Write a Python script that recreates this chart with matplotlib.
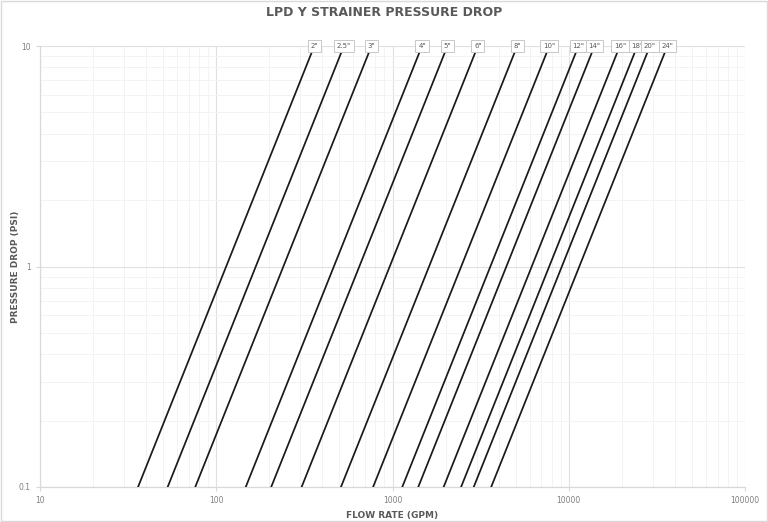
import matplotlib
matplotlib.use('Agg')
import matplotlib.pyplot as plt
from matplotlib.ticker import FixedLocator, LogLocator, NullFormatter

plt.rcParams['font.family'] = ['Liberation Sans Narrow', 'DejaVu Sans']

# strainer sizes and flow (GPM) read at 0.1 psi and at 10 psi
sizes = ['2"', '2.5"', '3"', '4"', '5"', '6"', '8"', '10"', '12"', '14"', '16"', '18"', '20"', '24"']
flow_low = [36, 53, 76, 147, 205, 305, 510, 776, 1136, 1400, 1950, 2450, 2890, 3630]
flow_high = [360, 530, 760, 1470, 2050, 3050, 5100, 7760, 11360, 14000, 19500, 24500, 28900, 36300]
dp_low = 0.1
dp_high = 10

x_ticks = [10, 100, 1000, 10000, 100000]
y_ticks = [0.1, 1, 10]

fig = plt.figure(figsize=(7.68, 5.22), dpi=100)
ax = fig.add_axes([40 / 768, 1 - 487 / 522, 705 / 768, 441 / 522])

for s, lo, hi in zip(sizes, flow_low, flow_high):
    ax.plot([lo, hi], [dp_low, dp_high], color='#1a1a1a', lw=1.25, zorder=3)
    ax.text(hi, dp_high, s, ha='center', va='center', fontsize=5, color='#595959', zorder=4,
            bbox=dict(boxstyle='square,pad=0.4', fc='white', ec='#c8c8c8', lw=0.7))

ax.set_xscale('log')
ax.set_yscale('log')
ax.set_xlim(10, 100000)
ax.set_ylim(0.1, 10)

ax.xaxis.set_major_locator(FixedLocator(x_ticks))
ax.yaxis.set_major_locator(FixedLocator(y_ticks))
ax.set_xticklabels([str(v) for v in x_ticks])
ax.set_yticklabels(['0.1', '1', '10'])
ax.xaxis.set_minor_locator(LogLocator(base=10, subs=range(2, 10)))
ax.yaxis.set_minor_locator(LogLocator(base=10, subs=range(2, 10)))
ax.xaxis.set_minor_formatter(NullFormatter())
ax.yaxis.set_minor_formatter(NullFormatter())

ax.grid(which='major', color='#e0e0e0', lw=0.8)
ax.grid(which='minor', color='#f3f3f3', lw=0.7)
ax.set_axisbelow(True)

for side in ['top', 'right']:
    ax.spines[side].set_visible(False)
for side in ['left', 'bottom']:
    ax.spines[side].set_color('#d9d9d9')
    ax.spines[side].set_linewidth(0.9)

ax.tick_params(which='major', length=3, color='#d9d9d9', labelsize=5.5, labelcolor='#7f7f7f')
ax.tick_params(which='minor', length=0)

ax.set_xlabel('FLOW RATE (GPM)', fontsize=6.5, fontweight='bold', color='#595959', labelpad=4)
fig.text(16 / 768, 1 - 267 / 522, 'PRESSURE DROP (PSI)', rotation=90, ha='center', va='center',
         fontsize=6.5, fontweight='bold', color='#595959')
fig.text(0.5, 1 - 13 / 522, 'LPD Y STRAINER PRESSURE DROP', ha='center', va='center',
         fontsize=9, fontweight='bold', color='#595959')

fig.patches.append(plt.Rectangle((0.001, 0.001), 0.998, 0.998, transform=fig.transFigure,
                                 fill=False, ec='#d9d9d9', lw=1))

fig.savefig('out.png', dpi=100)
